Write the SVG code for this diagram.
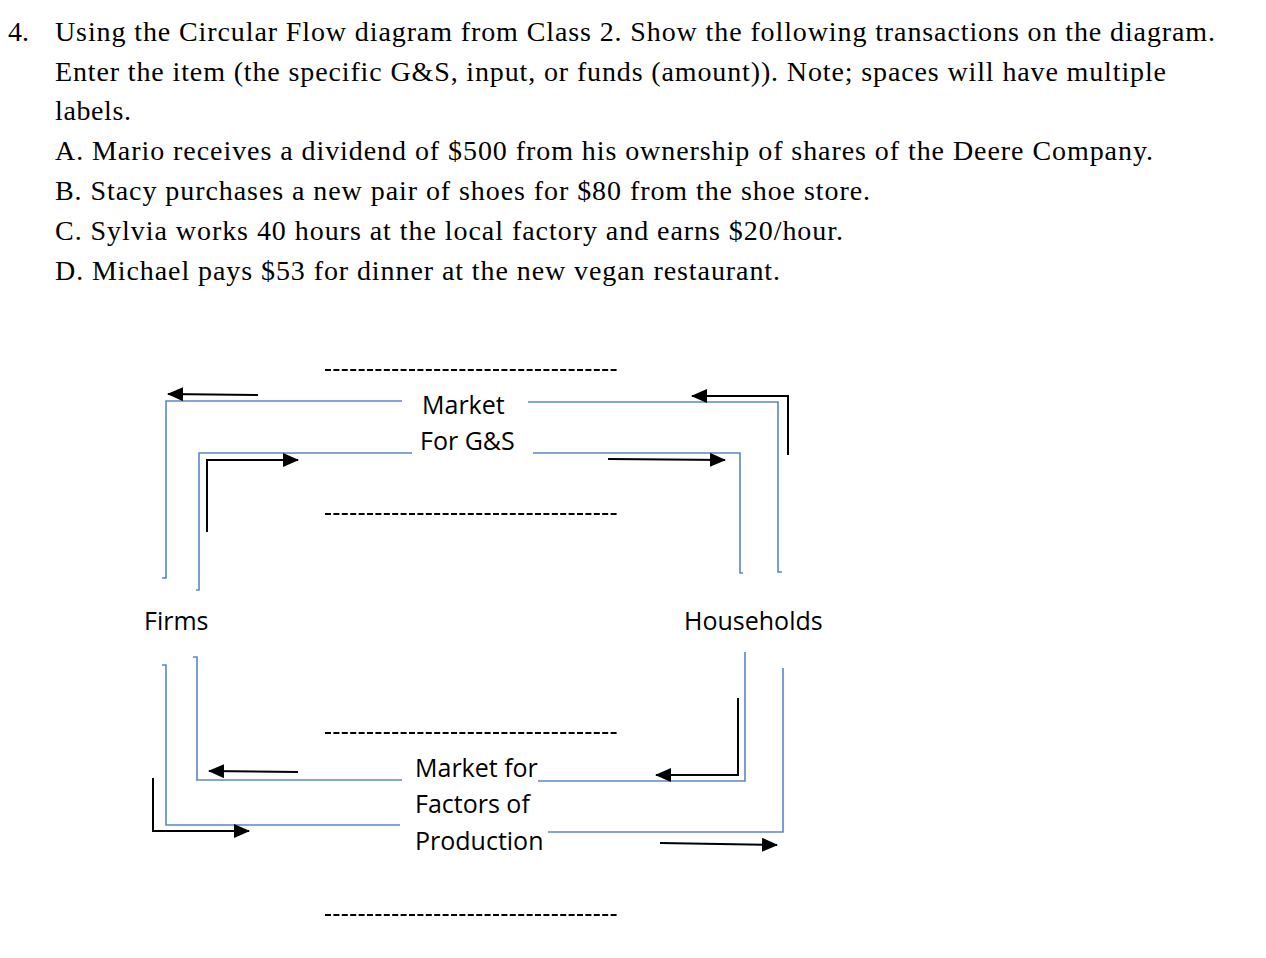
<svg xmlns="http://www.w3.org/2000/svg" width="1266" height="958" viewBox="0 0 1266 958">
<style>
.q{font-family:"Liberation Serif",serif;font-size:28px;fill:#000}
.l{font-family:"Open Sans","Liberation Sans",sans-serif;font-size:25px;fill:#000}
.b{fill:none;stroke:#5b86c6;stroke-width:1.6}
.k{fill:none;stroke:#000;stroke-width:2}
.d{stroke:#000;stroke-width:2.2;stroke-dasharray:6,2.4}
</style>
<defs><marker id="a" markerWidth="16" markerHeight="14" refX="15" refY="7" orient="auto" markerUnits="userSpaceOnUse" viewBox="0 0 16 14"><path d="M0,0 L16,7 L0,14 z" fill="#000"/></marker></defs>
<rect width="1266" height="958" fill="#fff"/>
<g id="question">
<text class="q" x="8" y="41">4.</text>
<text class="q" x="55" y="41" textLength="1160" lengthAdjust="spacing">Using the Circular Flow diagram from Class 2.  Show the following transactions on the diagram.</text>
<text class="q" x="55" y="81" textLength="1111" lengthAdjust="spacing">Enter the item (the specific G&amp;S, input, or funds (amount)).  Note; spaces will have multiple</text>
<text class="q" x="55" y="120" textLength="76" lengthAdjust="spacing">labels.</text>
<text class="q" x="55" y="160" textLength="1098" lengthAdjust="spacing">A.  Mario receives a dividend of $500 from his ownership of shares of the Deere Company.</text>
<text class="q" x="55" y="200" textLength="815" lengthAdjust="spacing">B.  Stacy purchases a new pair of shoes for $80 from the shoe store.</text>
<text class="q" x="55" y="240" textLength="788" lengthAdjust="spacing">C.  Sylvia works 40 hours at the local factory and earns $20/hour.</text>
<text class="q" x="55" y="280" textLength="725" lengthAdjust="spacing">D.  Michael pays $53 for dinner at the new vegan restaurant.</text>
</g>
<g id="market-gs"><text class="l" x="422" y="414">Market</text><text class="l" x="420" y="450">For G&amp;S</text></g>
<g id="firms"><text class="l" x="144" y="630">Firms</text></g>
<g id="households"><text class="l" x="684" y="630">Households</text></g>
<g id="market-fp"><text class="l" x="415" y="777">Market for</text><text class="l" x="415" y="813">Factors of</text><text class="l" x="415" y="850">Production</text></g>
<g id="connectors">
<line class="d" x1="325" y1="370" x2="617" y2="370"/>
<line class="d" x1="325" y1="514" x2="617" y2="514"/>
<line class="d" x1="325" y1="733" x2="617" y2="733"/>
<line class="d" x1="325" y1="915" x2="617" y2="915"/>
<path class="b" d="M402,401 H166 V578 H162"/>
<path class="b" d="M528,402 H778 V572 H782"/>
<path class="b" d="M412,453 H199 V590 H196"/>
<path class="b" d="M533,453 H740 V573 H743"/>
<path class="b" d="M193,657 H197 V780 H402"/>
<path class="b" d="M162,665 H166 V825 H400"/>
<path class="b" d="M538,781 H745 V652"/>
<path class="b" d="M548,832 H783 V668"/>
<path class="k" d="M258,395 L168,394" marker-end="url(#a)"/>
<path class="k" d="M788,455 V396 H692" marker-end="url(#a)"/>
<path class="k" d="M207,532 V460 H298" marker-end="url(#a)"/>
<path class="k" d="M608,459 L725,460" marker-end="url(#a)"/>
<path class="k" d="M298,772 L209,771" marker-end="url(#a)"/>
<path class="k" d="M738,698 V775 H656" marker-end="url(#a)"/>
<path class="k" d="M153,778 V831 H249" marker-end="url(#a)"/>
<path class="k" d="M660,843 L777,845" marker-end="url(#a)"/>
</g>
</svg>
